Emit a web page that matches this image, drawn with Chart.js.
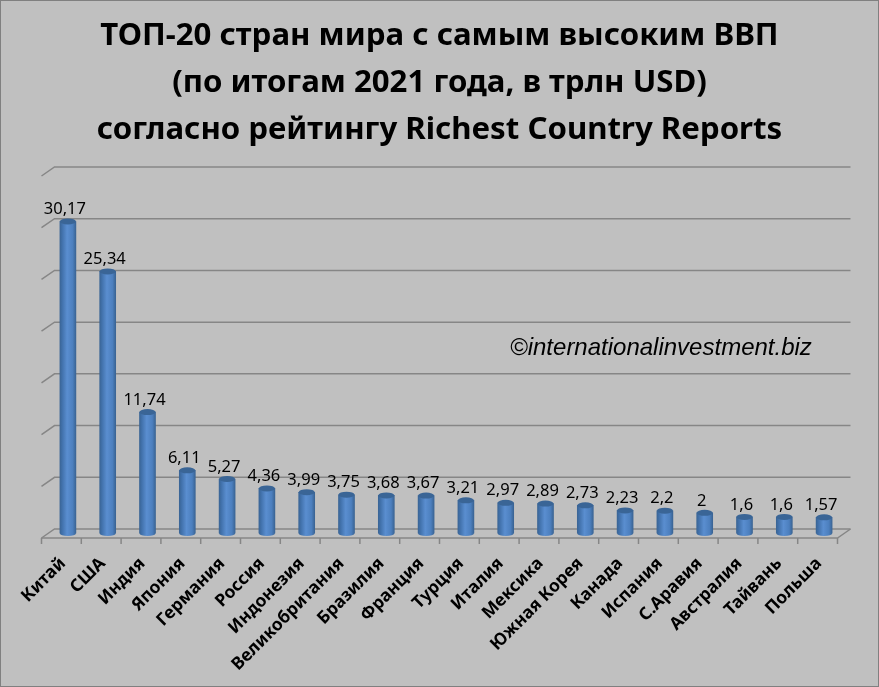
<!DOCTYPE html>
<html>
<head>
<meta charset="utf-8">
<script src="https://cdn.jsdelivr.net/npm/chart.js@4"></script>
<style>
html, body { margin: 0; padding: 0; background: #c0c0c0; }
canvas { display: block; }
</style>
</head>
<body>
<canvas id="myChart" width="879" height="687"></canvas>
<script>
const countries = ['Китай', 'США', 'Индия', 'Япония', 'Германия', 'Россия', 'Индонезия', 'Великобритания', 'Бразилия', 'Франция',
    'Турция', 'Италия', 'Мексика', 'Южная Корея', 'Канада', 'Испания', 'С.Аравия', 'Австралия', 'Тайвань', 'Польша'];
const gdp = [30.17, 25.34, 11.74, 6.11, 5.27, 4.36, 3.99, 3.75, 3.68, 3.67,
    3.21, 2.97, 2.89, 2.73, 2.23, 2.2, 2, 1.6, 1.6, 1.57];
const titleLines = ['ТОП-20 стран мира с самым высоким ВВП', '(по итогам 2021 года, в трлн USD)', 'согласно рейтингу Richest Country Reports'];
const watermark = '©internationalinvestment.biz';

// the wall sits behind the bars and the floor edge in front of them
const depthX = 6.5, depthY = 4.5;
const barW = 16;

function barGradient(ctx, x) {
    const g = ctx.createLinearGradient(x - barW / 2, 0, x + barW / 2, 0);
    g.addColorStop(0, '#3a6596');
    g.addColorStop(0.15, '#4272ac');
    g.addColorStop(0.45, '#5a8ed0');
    g.addColorStop(0.8, '#4c7fbe');
    g.addColorStop(1, '#3a6494');
    return g;
}

const wallPlugin = {
    id: 'wall',
    beforeDraw(chart) {
        const c = chart.ctx;
        c.save();
        c.fillStyle = '#c0c0c0';
        c.fillRect(0, 0, chart.width, chart.height);
        c.strokeStyle = '#808080';
        c.lineWidth = 2;
        c.strokeRect(0, 0, chart.width, chart.height);
        c.restore();
    },
    beforeDatasetsDraw(chart) {
        const c = chart.ctx, xs = chart.scales.x, ys = chart.scales.y;
        const l = xs.left, r = xs.right;
        c.save();
        c.strokeStyle = '#868686';
        c.lineWidth = 1.5;
        ys.ticks.forEach(function (t) {
            const y = ys.getPixelForValue(t.value);
            c.beginPath();
            c.moveTo(l - depthX, y + depthY);
            c.lineTo(l + depthX, y - depthY);
            c.lineTo(r + depthX, y - depthY);
            c.stroke();
        });
        // floor
        const y0 = ys.getPixelForValue(0);
        c.beginPath();
        c.moveTo(r + depthX, y0 - depthY);
        c.lineTo(r - depthX, y0 + depthY);
        c.lineTo(l - depthX, y0 + depthY);
        c.stroke();
        for (let i = 0; i <= countries.length; i++) {
            const x = l - depthX + i * (r - l) / countries.length;
            c.beginPath();
            c.moveTo(x, y0 + depthY);
            c.lineTo(x, y0 + depthY + 6);
            c.stroke();
        }
        // round bottoms of the bars
        chart.getDatasetMeta(0).data.forEach(function (bar) {
            c.fillStyle = barGradient(c, bar.x);
            c.beginPath();
            c.ellipse(bar.x, bar.base, barW / 2, 2.5, 0, 0, Math.PI * 2);
            c.fill();
        });
        c.restore();
    },
    afterDatasetsDraw(chart) {
        const c = chart.ctx;
        c.save();
        chart.getDatasetMeta(0).data.forEach(function (bar, i) {
            c.fillStyle = '#3a6596';
            c.beginPath();
            c.ellipse(bar.x, bar.y, barW / 2, 3, 0, 0, Math.PI * 2);
            c.fill();
            c.fillStyle = '#000';
            c.font = '16.5px "Noto Sans"';
            c.textAlign = 'center';
            c.textBaseline = 'middle';
            c.fillText(String(gdp[i]).replace('.', ','), bar.x - 3, bar.y - 12);
        });
        c.fillStyle = '#000';
        c.font = 'italic 24px "Liberation Sans"';
        c.textAlign = 'left';
        c.textBaseline = 'middle';
        c.fillText(watermark, 510, 348);
        c.restore();
    }
};

new Chart(document.getElementById('myChart'), {
    type: 'bar',
    data: {
        labels: countries,
        datasets: [{
            data: gdp,
            barThickness: barW,
            backgroundColor: function (context) {
                const x = context.chart.scales.x.getPixelForValue(context.dataIndex);
                if (!Number.isFinite(x)) return '#4f81bd';
                return barGradient(context.chart.ctx, x);
            }
        }]
    },
    options: {
        responsive: false,
        animation: false,
        devicePixelRatio: 1,
        layout: { padding: { left: 35, right: 35, top: 0, bottom: 0 } },
        plugins: {
            legend: { display: false },
            tooltip: { enabled: false },
            title: {
                display: true,
                text: titleLines,
                color: '#000',
                font: { family: '"Noto Sans"', size: 31.2, weight: 'bold', lineHeight: 1.5 },
                padding: { top: 13, bottom: 18.1 }
            }
        },
        scales: {
            x: {
                grid: { display: false },
                border: { display: false },
                afterFit: function (scale) { scale.height = 153.5; },
                ticks: {
                    autoSkip: false,
                    minRotation: 45,
                    maxRotation: 45,
                    color: '#000',
                    font: { family: '"Noto Sans"', size: 17.3, weight: 'bold' },
                    padding: 12,
                    labelOffset: -5
                }
            },
            y: {
                display: true,
                min: 0,
                max: 35,
                afterFit: function (scale) { scale.width = 13; },
                grid: { display: false },
                border: { display: false },
                ticks: { stepSize: 5, display: false }
            }
        }
    },
    plugins: [wallPlugin]
});
</script>
</body>
</html>
